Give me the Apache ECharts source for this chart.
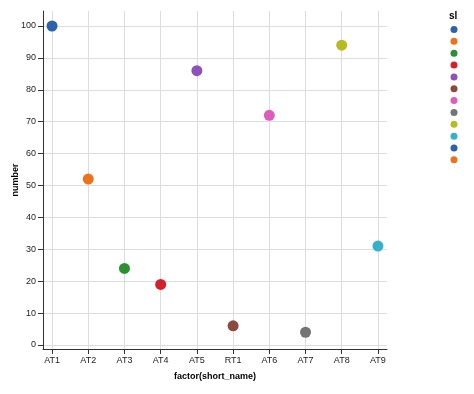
<!DOCTYPE html>
<html><head><meta charset="utf-8">
<script src="https://cdn.jsdelivr.net/npm/echarts@6/dist/echarts.min.js"></script>
<style>html,body{margin:0;padding:0;background:#fff}#c{width:474px;height:394px}</style>
</head><body><div id="c"></div>
<script>
const categories = ['AT1','AT2','AT3','AT4','AT5','RT1','AT6','AT7','AT8','AT9'];
const values = [100, 52, 24, 19, 86, 6, 72, 4, 94, 31];
const slLevels = ['1','2','3','4','5','6','7','8','9','10','11','12'];
const colors = ['#2c62ac','#ee7219','#2b9130','#d4202c','#8e52ba','#8a4a40','#de5cbc','#747474','#b7ba20','#35b1c9','#2c62ac','#ee7219'];
const yTicks = [0,10,20,30,40,50,60,70,80,90,100];
const xTicks = categories.map((c,i)=>i);

const FONT = 'Liberation Sans, Arial, Helvetica, sans-serif';
const series = slLevels.map((s,i)=>({
  type:'scatter', name:s,
  data: i < categories.length ? [[i, values[i]]] : [],
  symbolSize: 11,
  itemStyle:{color:colors[i], opacity:1},
  emphasis:{disabled:true}
}));

const chart = echarts.init(document.getElementById('c'), null, {renderer:'canvas'});
chart.setOption({
  animation:false,
  backgroundColor:'#fff',
  grid:{left:43, right:87, top:11, bottom:45, containLabel:false, outerBoundsMode:'none'},
  title:{text:'sl', left:449, top:11, padding:0, textStyle:{fontFamily:FONT, fontSize:10, fontWeight:'bold', color:'#000'}},
  legend:{
    orient:'vertical', left:450.5, top:26, padding:0, itemWidth:7, itemHeight:7, itemGap:4.85,
    icon:'circle', formatter:()=>'', data:slLevels, selectedMode:false,
    textStyle:{fontSize:1}
  },
  xAxis:{
    type:'value', min:-0.25, max:9.25,
    name:'factor(short_name)', nameLocation:'middle', nameGap:23,
    nameTextStyle:{fontFamily:FONT, fontSize:9, fontWeight:'bold', color:'#000'},
    axisLine:{show:true, onZero:false, lineStyle:{color:'#333', width:1}},
    axisTick:{show:true, customValues:xTicks, length:5, lineStyle:{color:'#333'}},
    axisLabel:{customValues:xTicks, formatter:v=>categories[Math.round(v)], fontFamily:FONT, fontSize:9, color:'#222', margin:7},
    splitLine:{show:true, lineStyle:{color:'#ddd', width:1}}
  },
  yAxis:{
    type:'value', min:-1.25, max:104.7,
    name:'number', nameLocation:'middle', nameGap:23, nameRotate:90, nameMoveOverlap:false,
    nameTextStyle:{fontFamily:FONT, fontSize:9, fontWeight:'bold', color:'#000'},
    axisLine:{show:true, onZero:false, lineStyle:{color:'#333', width:1}},
    axisTick:{show:true, customValues:yTicks, length:5, lineStyle:{color:'#333'}},
    axisLabel:{customValues:yTicks, fontFamily:FONT, fontSize:9, color:'#222', margin:7},
    splitLine:{show:true, lineStyle:{color:'#ddd', width:1}}
  },
  series:series
});
</script></body></html>
